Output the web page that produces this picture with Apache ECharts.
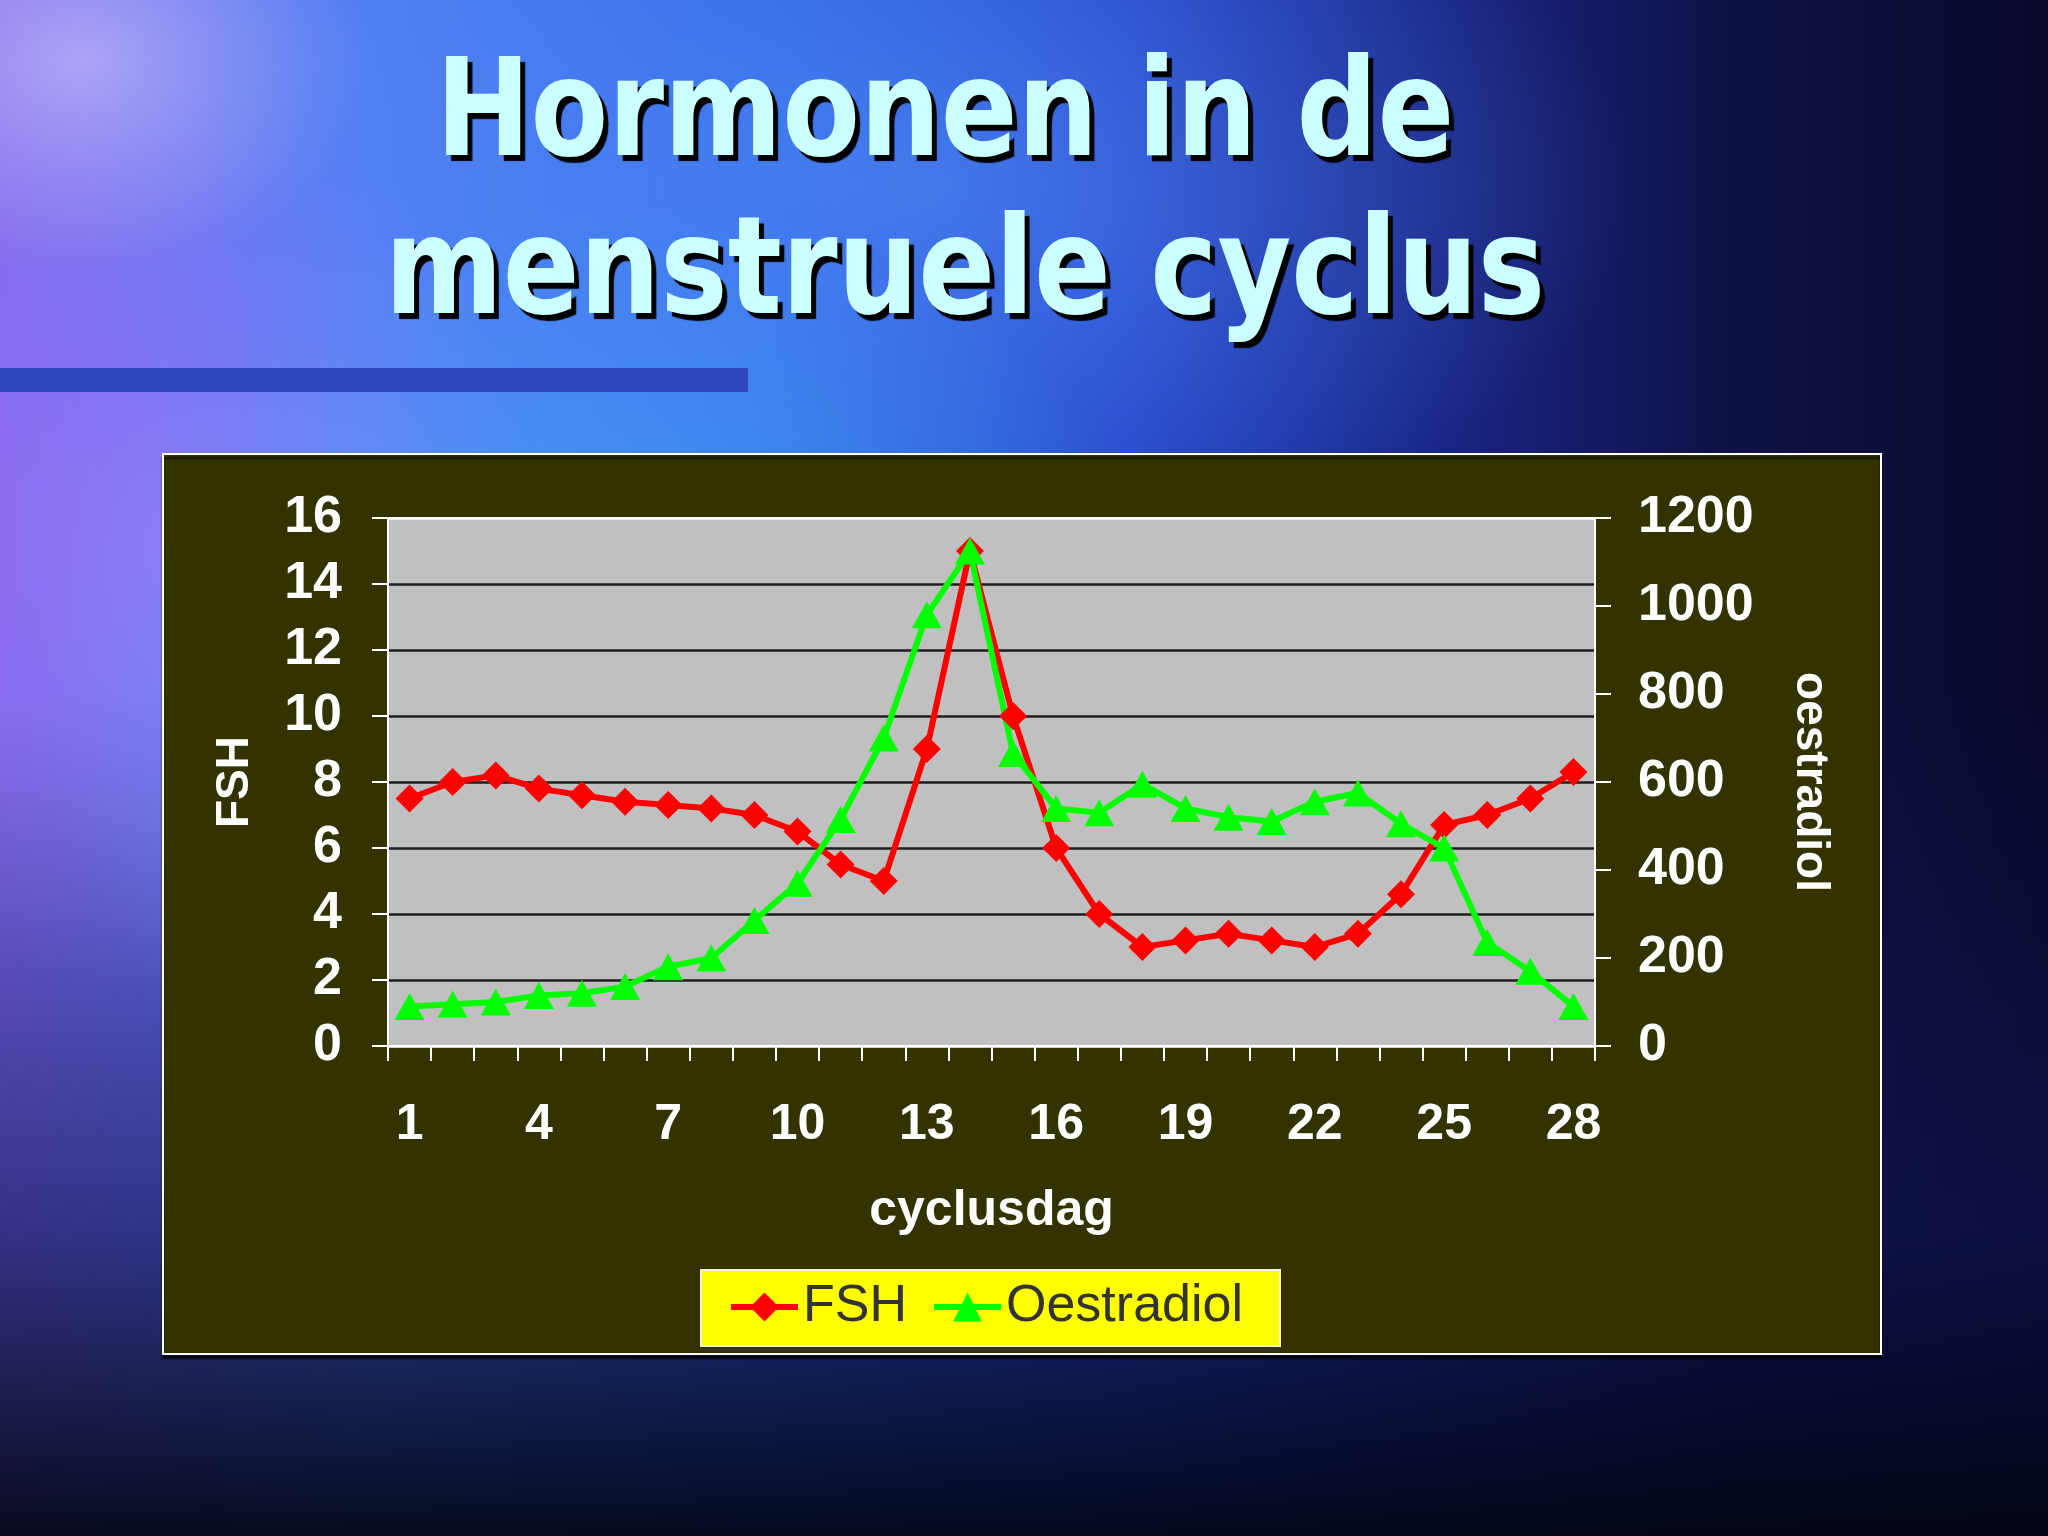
<!DOCTYPE html>
<html>
<head>
<meta charset="utf-8">
<script src="https://cdn.jsdelivr.net/npm/echarts@6/dist/echarts.min.js"></script>
<style>
html, body { margin: 0; padding: 0; }
#main {
	width: 2048px; height: 1536px;
	background:
		radial-gradient(ellipse 14% 14% at 4% 4%, rgba(225,215,255,0.5), rgba(225,215,255,0) 100%),
		radial-gradient(ellipse 18% 30% at 8% 35%, rgba(190,130,255,0.4), rgba(190,130,255,0) 100%),
		radial-gradient(ellipse 28% 32% at 30% 45%, rgba(80,200,255,0.55), rgba(80,200,255,0) 100%),
		radial-gradient(ellipse 35% 25% at 45% 12%, rgba(100,160,255,0.45), rgba(100,160,255,0) 100%),
		linear-gradient(to bottom, rgba(0,0,0,0) 45%, rgba(15,18,80,0.65) 80%, rgba(2,6,20,0.95) 100%),
		linear-gradient(to right, #7f6aec 0%, #4f7ef2 18%, #2f66e6 38%, #2346cc 55%, #1a2688 70%, #0f1248 84%, #090a2a 100%);
}
</style>
</head>
<body>
<div id="main"></div>
<script>
var days = ['1','2','3','4','5','6','7','8','9','10','11','12','13','14',
	'15','16','17','18','19','20','21','22','23','24','25','26','27','28'];
var data_fsh = [7.5, 8.0, 8.2, 7.8, 7.6, 7.4, 7.3, 7.2, 7.0, 6.5, 5.5, 5.0, 9.0, 15.0,
	10.0, 6.0, 4.0, 3.0, 3.2, 3.4, 3.2, 3.0, 3.4, 4.6, 6.7, 7.0, 7.5, 8.3];
var data_oestradiol = [90, 95, 100, 115, 120, 135, 180, 200, 285, 370, 515, 700, 980, 1125,
	665, 540, 530, 595, 540, 520, 510, 555, 575, 505, 450, 235, 170, 90];
var title_lines = ['Hormonen in de', 'menstruele cyclus'];

var font_axis = '"Liberation Sans", Arial, sans-serif';
var font_title = '"Comic Sans MS", "DejaVu Sans", sans-serif';

var option = {
	animation: false,
	graphic: [
		{
			type: 'rect', z: -5,
			shape: {x: 0, y: 368, width: 748, height: 24},
			style: {fill: '#2f48bc'}
		},
		{
			type: 'rect', z: -5,
			shape: {x: 163, y: 454, width: 1718, height: 900},
			style: {fill: '#333300', stroke: '#ffffff', lineWidth: 2,
				shadowColor: 'rgba(0,0,0,0.7)', shadowOffsetY: 4, shadowBlur: 2}
		},
		{
			type: 'rect', z: 1,
			shape: {x: 701, y: 1270, width: 579, height: 76},
			style: {fill: '#ffff00', stroke: '#f4f4d0', lineWidth: 2}
		},
		{
			type: 'text', z: 10, x: 945, y: 120, scaleX: 0.96, scaleY: 1.15,
			style: {
				text: title_lines[0], fill: '#ccffff',
				font: 'bold 118px ' + font_title,
				align: 'center', verticalAlign: 'middle',
				textShadowColor: '#000000', textShadowOffsetX: 5, textShadowOffsetY: 6, textShadowBlur: 1
			}
		},
		{
			type: 'text', z: 10, x: 965, y: 278, scaleX: 0.96, scaleY: 1.15,
			style: {
				text: title_lines[1], fill: '#ccffff',
				font: 'bold 118px ' + font_title,
				align: 'center', verticalAlign: 'middle',
				textShadowColor: '#000000', textShadowOffsetX: 5, textShadowOffsetY: 6, textShadowBlur: 1
			}
		}
	],
	legend: {
		data: ['FSH', 'Oestradiol'],
		left: 728,
		top: 1281,
		padding: 0,
		itemWidth: 67,
		itemHeight: 36,
		itemGap: 24,
		lineStyle: {width: 6},
		textStyle: {color: '#333333', fontSize: 52, fontFamily: font_axis}
	},
	grid: {
		left: 388, top: 518, width: 1207, height: 528,
		show: true,
		backgroundColor: '#c0c0c0',
		borderColor: '#ffffff',
		borderWidth: 2
	},
	xAxis: [
		{
			type: 'category',
			data: days,
			boundaryGap: true,
			name: 'cyclusdag',
			nameLocation: 'middle',
			nameGap: 140,
			nameTextStyle: {color: '#ffffff', fontSize: 50, fontWeight: 'bold', fontFamily: font_axis},
			axisLine: {lineStyle: {color: '#ffffff', width: 2}},
			axisTick: {show: true, interval: 0, length: 15, lineStyle: {color: '#ffffff', width: 2}},
			axisLabel: {interval: 2, margin: 54, color: '#ffffff', fontSize: 50, fontWeight: 'bold', fontFamily: font_axis},
			splitLine: {show: false}
		}
	],
	yAxis: [
		{
			type: 'value',
			min: 0, max: 16, interval: 2,
			position: 'left',
			name: 'FSH',
			nameLocation: 'middle',
			nameRotate: 90,
			nameGap: 130,
			nameTextStyle: {color: '#ffffff', fontSize: 46, fontWeight: 'bold', fontFamily: font_axis},
			axisLine: {show: true, lineStyle: {color: '#ffffff', width: 2}},
			axisTick: {show: true, length: 16, lineStyle: {color: '#ffffff', width: 2}},
			axisLabel: {margin: 46, color: '#ffffff', fontSize: 52, fontWeight: 'bold', fontFamily: font_axis},
			splitLine: {show: true, lineStyle: {
				color: ['#ffffff', '#1e1e1e', '#1e1e1e', '#1e1e1e', '#1e1e1e', '#1e1e1e', '#1e1e1e', '#1e1e1e', '#ffffff'],
				width: 2.5
			}}
		},
		{
			type: 'value',
			min: 0, max: 1200, interval: 200,
			position: 'right',
			name: 'oestradiol',
			nameLocation: 'middle',
			nameRotate: -90,
			nameGap: 192,
			nameTextStyle: {color: '#ffffff', fontSize: 46, fontWeight: 'bold', fontFamily: font_axis},
			axisLine: {show: true, lineStyle: {color: '#ffffff', width: 2}},
			axisTick: {show: true, length: 16, lineStyle: {color: '#ffffff', width: 2}},
			axisLabel: {
				margin: 43, color: '#ffffff', fontSize: 52, fontWeight: 'bold', fontFamily: font_axis,
				formatter: function (v) { return String(v); }
			},
			splitLine: {show: false}
		}
	],
	series: [
		{
			name: 'FSH',
			type: 'line',
			yAxisIndex: 0,
			data: data_fsh,
			symbol: 'diamond',
			symbolSize: 28,
			lineStyle: {color: '#ff0000', width: 6},
			itemStyle: {color: '#ff0000'}
		},
		{
			name: 'Oestradiol',
			type: 'line',
			yAxisIndex: 1,
			data: data_oestradiol,
			symbol: 'triangle',
			symbolSize: [30, 27],
			lineStyle: {color: '#00ff00', width: 6},
			itemStyle: {color: '#00ff00'}
		}
	]
};

var myChart = echarts.init(document.getElementById('main'));
myChart.setOption(option);
</script>
</body>
</html>
